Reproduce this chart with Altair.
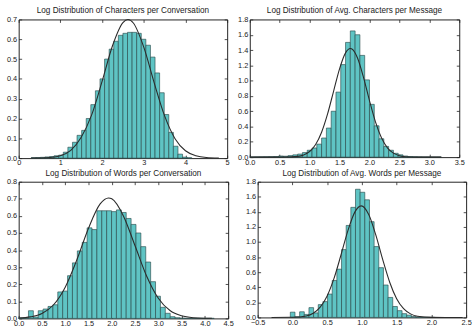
import altair as alt
import pandas as pd

# ---------------- data ----------------
# Panel 1: Log Distribution of Characters per Conversation
p1_title = "Log Distribution of Characters per Conversation"
p1_bin_start = 0.30
p1_bin_width = 0.11
p1_heights = [0.002, 0.003, 0.004, 0.006, 0.008, 0.012, 0.015, 0.03, 0.055, 0.08,
              0.115, 0.14, 0.20, 0.27, 0.34, 0.40, 0.50, 0.55, 0.59, 0.62,
              0.63, 0.635, 0.635, 0.63, 0.60, 0.57, 0.51, 0.43, 0.33, 0.22,
              0.13, 0.06, 0.02, 0.005, 0.002]
p1_curve_x = [0.3, 0.5, 0.75, 1.0, 1.25, 1.5, 1.75, 2.0, 2.25, 2.5, 2.62, 2.75,
              3.0, 3.25, 3.5, 3.75, 4.0, 4.25, 4.5, 4.8]
p1_curve_y = [0.0002, 0.0007, 0.003, 0.012, 0.039, 0.105, 0.218, 0.387, 0.567, 0.684,
              0.700, 0.682, 0.560, 0.380, 0.213, 0.098, 0.037, 0.012, 0.003, 0.0005]
p1_xticks = [0, 1, 2, 3, 4, 5]
p1_yticks = [0.0, 0.1, 0.2, 0.3, 0.4, 0.5, 0.6, 0.7]

# Panel 2: Log Distribution of Avg. Characters per Message
p2_title = "Log Distribution of Avg. Characters per Message"
p2_bin_start = 0.0
p2_bin_width = 0.08
p2_heights = [0.002, 0.003, 0.004, 0.005, 0.006, 0.008, 0.015, 0.012, 0.02, 0.03,
              0.04, 0.06, 0.09, 0.12, 0.17, 0.25, 0.38, 0.60, 0.85, 1.21,
              1.50, 1.65, 1.60, 1.33, 1.01, 0.69, 0.41, 0.24, 0.14, 0.09,
              0.05, 0.03, 0.015, 0.008, 0.005, 0.003, 0.002, 0.002, 0.001, 0.001]
p2_curve_x = [0.0, 0.4, 0.6, 0.8, 0.9, 1.0, 1.1, 1.2, 1.3, 1.4, 1.5, 1.6, 1.68,
              1.7, 1.8, 1.9, 2.0, 2.1, 2.2, 2.3, 2.4, 2.5, 2.6, 2.8, 3.0, 3.2]
p2_curve_y = [0.0, 0.0, 0.0008, 0.010, 0.029, 0.074, 0.166, 0.326, 0.565, 0.861,
              1.155, 1.363, 1.420, 1.416, 1.295, 1.042, 0.739, 0.461, 0.253, 0.122,
              0.052, 0.019, 0.006, 0.0005, 0.0, 0.0]
p2_xticks = [0.0, 0.5, 1.0, 1.5, 2.0, 2.5, 3.0, 3.5]
p2_yticks = [0.0, 0.2, 0.4, 0.6, 0.8, 1.0, 1.2, 1.4, 1.6, 1.8]

# Panel 3: Log Distribution of Words per Conversation
p3_title = "Log Distribution of Words per Conversation"
p3_bin_start = 0.0
p3_bin_width = 0.105
p3_heights = [0.003, 0.003, 0.045, 0.008, 0.045, 0.055, 0.07, 0.08, 0.155, 0.16,
              0.25, 0.325, 0.395, 0.445, 0.53, 0.52, 0.63, 0.63, 0.63, 0.625,
              0.635, 0.62, 0.585, 0.55, 0.50, 0.42, 0.33, 0.215, 0.13, 0.065,
              0.03, 0.01, 0.004, 0.002, 0.001, 0.001, 0.001, 0.0005, 0.0005, 0.0005]
p3_curve_x = [0.0, 0.25, 0.5, 0.75, 1.0, 1.25, 1.5, 1.75, 1.93, 2.0, 2.25, 2.5,
              2.75, 3.0, 3.25, 3.5, 3.75, 4.0, 4.15]
p3_curve_y = [0.002, 0.009, 0.029, 0.080, 0.183, 0.343, 0.528, 0.670, 0.705, 0.700,
              0.600, 0.425, 0.247, 0.118, 0.046, 0.015, 0.004, 0.001, 0.0005]
p3_xticks = [0.0, 0.5, 1.0, 1.5, 2.0, 2.5, 3.0, 3.5, 4.0, 4.5]
p3_yticks = [0.0, 0.1, 0.2, 0.3, 0.4, 0.5, 0.6, 0.7, 0.8]

# Panel 4: Log Distribution of Avg. Words per Message
p4_title = "Log Distribution of Avg. Words per Message"
p4_bin_start = -0.03
p4_bin_width = 0.067
p4_heights = [0.07, 0.01, 0.075, 0.04, 0.13, 0.06, 0.17, 0.21, 0.31, 0.49,
              0.64, 0.90, 1.22, 1.46, 1.70, 1.66, 1.56, 1.27, 0.94, 0.66,
              0.43, 0.265, 0.145, 0.09, 0.05, 0.03, 0.012, 0.006, 0.003, 0.002, 0.001]
p4_curve_x = [-0.3, 0.0, 0.2, 0.3, 0.4, 0.5, 0.6, 0.7, 0.8, 0.9, 0.99, 1.1, 1.2,
              1.3, 1.4, 1.5, 1.6, 1.7, 1.8, 2.0, 2.2, 2.45]
p4_curve_y = [0.0, 0.002, 0.020, 0.056, 0.136, 0.285, 0.521, 0.831, 1.155, 1.400,
              1.480, 1.362, 1.094, 0.766, 0.467, 0.249, 0.116, 0.047, 0.016, 0.001,
              0.0, 0.0]
p4_xticks = [-0.5, 0.0, 0.5, 1.0, 1.5, 2.0, 2.5]
p4_yticks = [0.0, 0.2, 0.4, 0.6, 0.8, 1.0, 1.2, 1.4, 1.6, 1.8]

# ---------------- styling ----------------
FONT = "Liberation Sans"
BAR_FILL = "#5fc4c4"
BAR_STROKE = "#284848"
LINE = "#2b2b2b"
TXT = "#222222"


def panel(title, start, width, heights, cx, cy, xticks, yticks, xdom, ydom,
          xfmt, w, h, yext):
    n = len(heights)
    bars = pd.DataFrame({
        "x0": [start + i * width for i in range(n)],
        "x1": [start + (i + 1) * width for i in range(n)],
        "y": heights,
    })
    curve = pd.DataFrame({"x": cx, "y": cy})

    xs = alt.Scale(domain=xdom, nice=False, zero=False)
    ys = alt.Scale(domain=ydom, nice=False, zero=False)

    common = dict(domain=False, grid=False, tickSize=3, offset=-3, tickColor=TXT,
                  tickWidth=0.8, title=None, labelFont=FONT, labelFontSize=7.5,
                  labelColor=TXT, labelOverlap=False, labelFlush=False)

    b = alt.Chart(bars).mark_bar(fill=BAR_FILL, stroke=BAR_STROKE, strokeWidth=0.7,
                                 strokeOpacity=0.9).encode(
        x=alt.X("x0:Q", scale=xs,
                axis=alt.Axis(values=xticks, format=xfmt, labelPadding=1, **common)),
        x2="x1:Q",
        y=alt.Y("y:Q", scale=ys,
                axis=alt.Axis(values=yticks, format=".1f", labelPadding=2,
                              minExtent=yext, maxExtent=yext, **common)),
        y2=alt.datum(0),
    )
    ln = alt.Chart(curve).mark_line(color=LINE, strokeWidth=1.1,
                                    interpolate="monotone").encode(
        x=alt.X("x:Q", scale=xs, axis=None),
        y=alt.Y("y:Q", scale=ys, axis=None),
    )
    tk = alt.Chart(curve).mark_line(strokeOpacity=0).encode(
        x=alt.X("x:Q", scale=xs,
                axis=alt.Axis(orient="top", values=xticks, labels=False, **common)),
        y=alt.Y("y:Q", scale=ys,
                axis=alt.Axis(orient="right", values=yticks, labels=False, **common)),
    )
    return alt.layer(b, ln, tk).resolve_axis(x="independent", y="independent").properties(
        width=w, height=h,
        title=alt.TitleParams(title, font=FONT, fontSize=8.3, fontWeight="normal",
                              color=TXT, offset=1),
    )


c1 = panel(p1_title, p1_bin_start, p1_bin_width, p1_heights, p1_curve_x, p1_curve_y,
           p1_xticks, p1_yticks, [0, 5], [0, 0.7], "d", 212, 141, 18)
c2 = panel(p2_title, p2_bin_start, p2_bin_width, p2_heights, p2_curve_x, p2_curve_y,
           p2_xticks, p2_yticks, [0, 3.5], [0, 1.8], ".1f", 213, 140, 13)
c3 = panel(p3_title, p3_bin_start, p3_bin_width, p3_heights, p3_curve_x, p3_curve_y,
           p3_xticks, p3_yticks, [0, 4.5], [0, 0.8], ".1f", 213, 139, 13)
c4 = panel(p4_title, p4_bin_start, p4_bin_width, p4_heights, p4_curve_x, p4_curve_y,
           p4_xticks, p4_yticks, [-0.5, 2.5], [0, 1.8], ".1f", 212, 138, 13)

top = alt.hconcat(c1, c2, spacing=7)
bottom = alt.hconcat(c3, c4, spacing=11)

chart = alt.vconcat(top, bottom, spacing=1).properties(
    padding={"left": 3, "top": 3, "right": 2, "bottom": 0},
    background="white",
).configure_view(stroke="#222222", strokeWidth=1)

chart.save("out.html", embed_options={"renderer": "svg", "actions": False})
